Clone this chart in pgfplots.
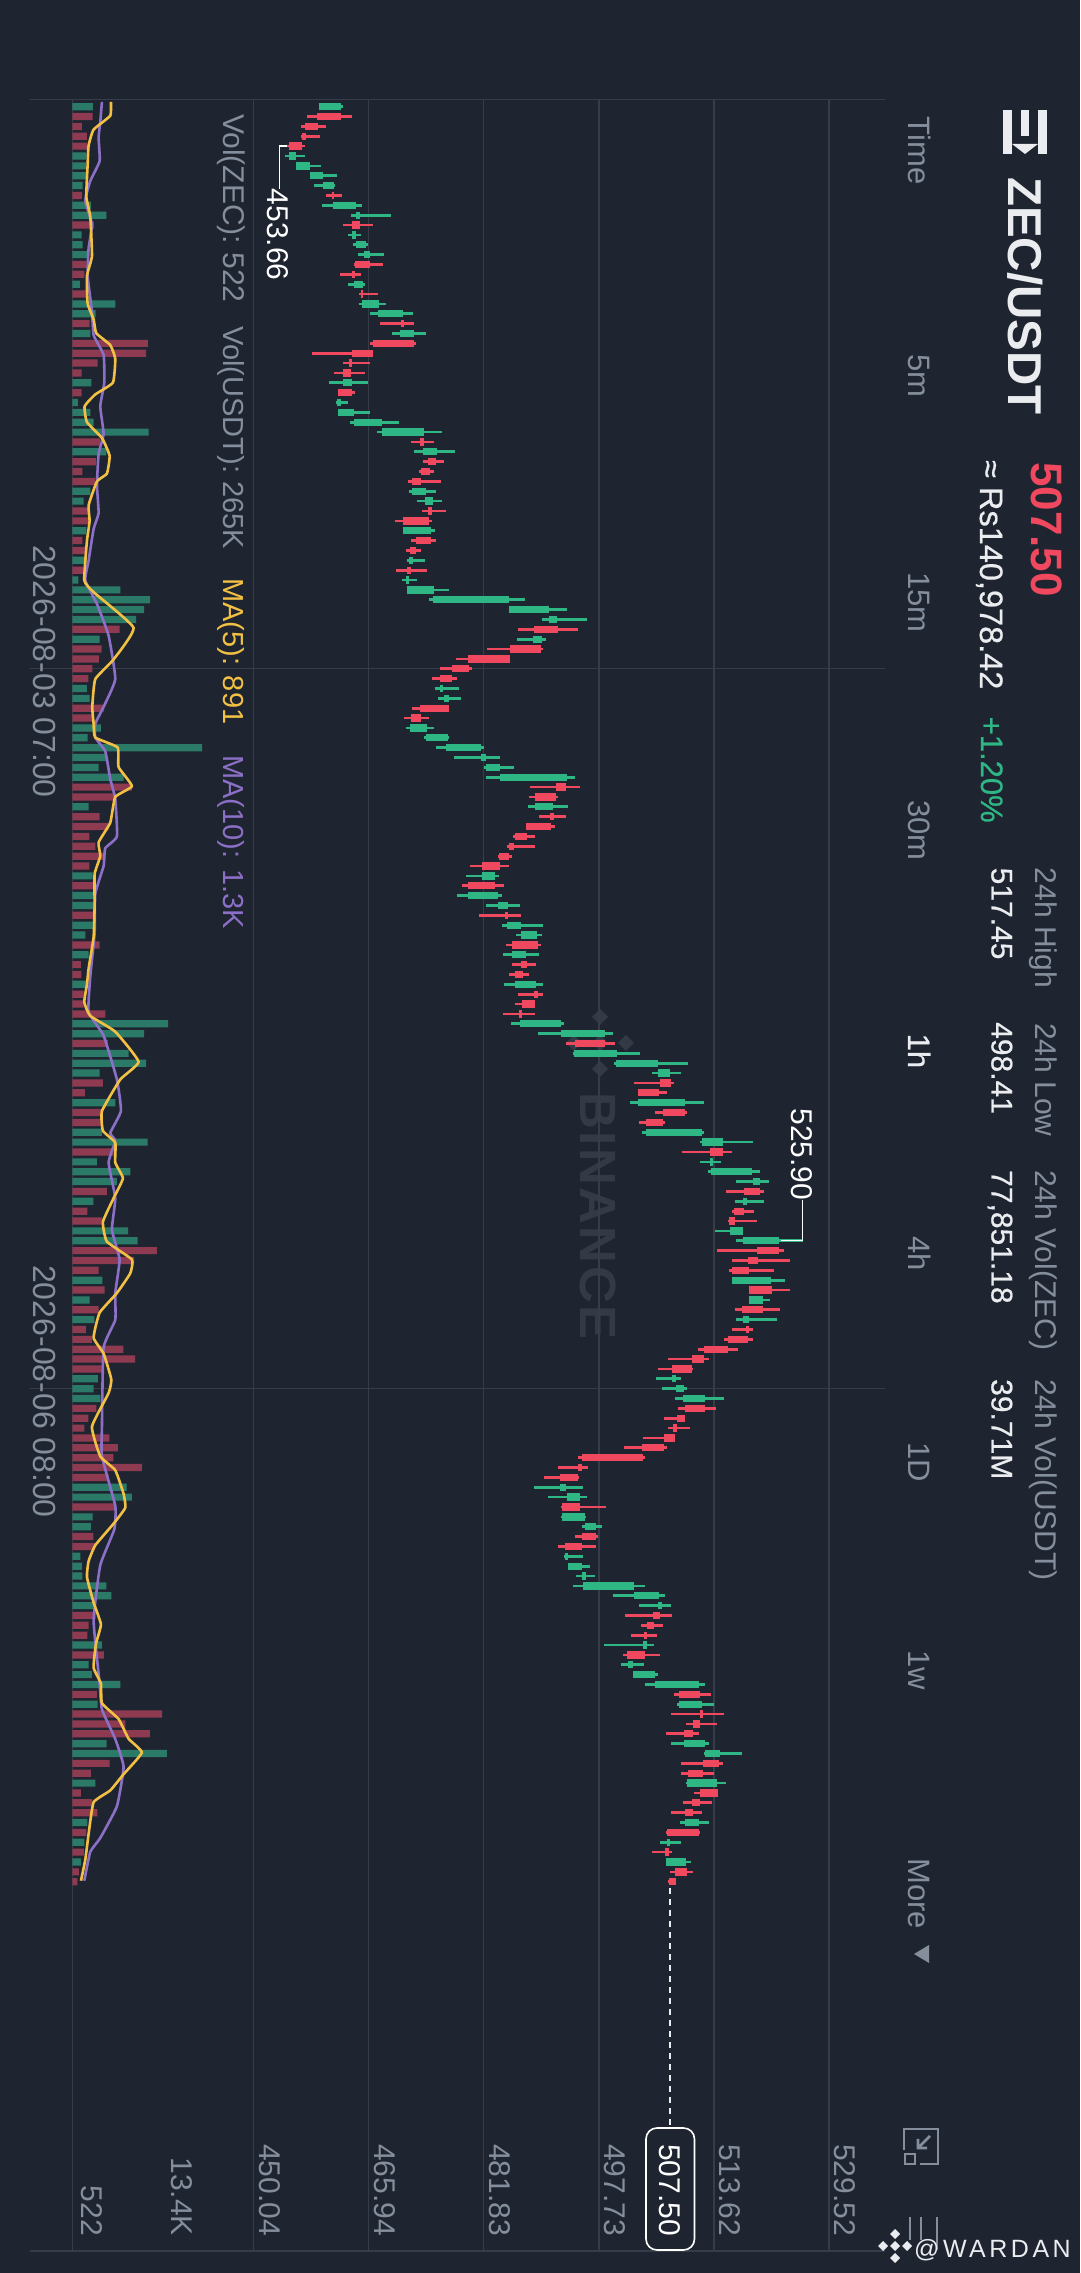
\documentclass[border=0pt]{standalone}
\usepackage{pgfplots}
\pgfplotsset{compat=1.18}
\usepackage{pgfplotstable}
\usepackage{fontspec}
\setmainfont{Liberation Sans}
\newfontfamily\wmfont[LetterSpace=14]{Liberation Sans}
\newfontfamily\binfont[LetterSpace=5]{Liberation Sans Bold}
\newfontfamily\medfont[FakeBold=0.6]{Liberation Sans}
\definecolor{bgc}{HTML}{1F2530}
\definecolor{gridc}{HTML}{363C48}
\definecolor{cg}{HTML}{2EB684}
\definecolor{cr}{HTML}{F0485F}
\definecolor{vg}{HTML}{2B7A68}
\definecolor{vr}{HTML}{8E3A50}
\definecolor{greyt}{HTML}{848E9C}
\definecolor{whitet}{HTML}{EAECEF}
\definecolor{ma5}{HTML}{F2C144}
\definecolor{ma10}{HTML}{8C6FC6}
\definecolor{wmc}{HTML}{343A45}
\pgfplotstableread{
t wl bl bh wh v
-1 454.60 459.10 459.10 459.10 0
0 459.02 459.02 462.15 462.43 2133
5 454.37 454.97 455.89 457.09 1445
6 455.85 455.85 457.82 459.30 1410
7 457.78 457.78 459.57 461.55 1445
8 458.42 459.57 461.19 461.28 1066
10 459.48 461.00 464.22 465.05 1926
11 463.49 464.13 464.73 468.97 3509
13 463.12 463.63 464.22 464.92 963
14 463.81 464.13 465.51 465.84 1066
15 464.50 465.33 466.07 468.05 1514
18 463.12 463.90 465.19 465.38 791
20 464.55 465.01 467.36 468.37 4438
21 466.16 467.26 470.67 472.05 2408
23 469.15 470.26 472.14 473.80 1858
28 460.40 462.34 463.63 465.88 1961
30 461.46 461.60 462.06 463.03 585
31 461.74 461.74 463.90 466.11 1858
32 463.36 463.91 467.78 470.08 2202
33 467.13 467.78 473.58 476.06 7878
35 472.20 473.39 475.37 477.81 3509
39 471.55 471.92 473.81 475.19 1858
40 472.66 473.72 474.78 476.02 1170
43 470.72 470.72 474.55 475.14 1445
46 471.23 471.55 472.06 473.76 1445
48 470.54 471.14 471.55 472.57 619
49 471.18 471.18 474.91 477.08 4954
50 474.32 474.87 485.36 487.48 8050
51 485.36 485.36 490.89 493.28 7430
52 489.88 490.84 491.99 496.09 6605
54 486.38 488.68 489.88 490.38 2821
59 475.05 475.79 476.25 478.37 1514
60 475.47 476.34 476.99 478.69 1789
63 471.05 471.64 473.99 475.01 2958
64 473.58 473.85 476.85 477.08 1582
65 475.28 476.66 481.45 481.91 13400
66 477.77 481.50 482.14 484.08 3578
67 481.91 482.14 484.08 485.96 2718
68 482.14 484.08 493.28 494.39 5298
71 487.99 488.86 491.44 493.42 1686
78 479.43 481.54 483.43 483.98 2098
80 478.14 479.70 483.80 484.35 2374
81 482.19 483.75 485.18 486.84 2305
83 484.40 485.09 486.93 490.06 2305
84 486.29 486.98 489.23 489.88 1342
86 484.49 485.73 487.71 489.42 1686
89 484.63 486.10 489.09 489.97 1445
93 485.64 486.84 492.55 492.92 9907
94 489.28 492.50 498.62 499.73 7430
96 494.20 494.34 500.28 503.46 5814
97 499.87 500.10 505.94 510.04 7637
98 505.07 505.85 507.60 509.12 2821
101 502.08 503.09 509.58 512.30 4438
104 503.64 504.29 512.02 512.21 3062
105 511.65 512.02 514.92 519.07 7774
107 511.65 513.08 513.54 514.55 2546
108 512.85 513.17 518.93 519.99 5986
109 516.63 518.97 519.99 521.28 4610
111 516.53 517.69 518.15 520.49 2167
114 513.77 515.84 517.64 517.64 5779
115 516.67 517.59 522.61 525.90 6742
119 516.12 516.12 521.51 523.44 3096
121 518.47 518.51 520.45 521.37 1789
123 516.63 517.59 518.47 522.34 2270
129 505.62 507.78 508.34 509.12 2649
130 506.49 508.38 509.49 509.85 2202
131 508.24 509.39 512.34 514.96 2890
140 488.72 492.36 493.19 495.54 5607
141 490.70 493.28 495.08 496.04 6158
143 492.45 492.59 495.86 496.00 2098
144 495.40 495.86 497.29 498.16 1926
147 492.91 493.00 493.46 495.49 826
148 493.46 493.46 495.40 496.46 998
149 494.62 495.40 495.90 497.15 1032
150 494.20 495.54 502.53 504.05 3509
151 499.73 502.63 505.99 506.86 4025
152 503.27 505.85 506.40 507.64 2133
156 498.44 503.87 504.33 505.34 3062
158 500.74 501.80 502.49 503.92 1686
159 502.49 502.49 505.53 505.94 2030
160 504.15 505.48 511.56 512.34 4954
162 508.57 508.80 512.02 513.58 2614
166 507.69 509.49 512.39 512.89 3543
167 512.20 512.34 514.46 517.50 9770
170 509.76 509.95 514.09 515.24 2374
174 508.98 509.62 511.60 512.98 1548
176 506.13 507.14 507.55 509.12 1238
178 506.95 507.00 509.76 510.50 894
}\greentab
\pgfplotstableread{
t wl bl bh wh v
1 457.46 458.84 462.11 463.58 2098
2 456.63 457.18 458.98 460.08 998
3 456.58 456.77 457.23 459.16 1514
4 453.66 454.97 456.72 457.18 1514
9 460.03 460.82 461.14 462.24 998
12 462.38 463.58 464.78 466.53 2236
16 463.90 463.99 466.07 467.91 1479
17 462.01 463.67 464.04 464.87 1238
19 464.64 464.82 465.15 467.17 1445
22 467.49 470.35 470.76 472.24 1789
24 466.11 466.53 472.24 472.42 7809
25 458.10 463.67 466.53 466.57 7637
26 462.43 463.17 463.58 466.07 2614
27 461.19 462.34 463.44 465.47 963
29 461.65 461.65 463.67 463.99 963
34 471.78 473.07 473.58 474.91 2890
36 473.44 474.08 475.28 476.34 2442
37 472.89 473.12 474.41 475.01 1032
38 471.37 471.92 473.21 475.93 2374
41 473.30 474.18 474.64 476.66 1686
42 469.53 470.68 474.22 474.68 1789
44 471.74 472.43 474.50 475.24 1032
45 471.14 471.69 472.43 473.16 1445
47 469.76 471.23 471.78 473.99 1170
53 486.52 488.73 492.04 494.85 4885
55 482.28 485.50 489.78 490.01 3027
56 478.04 479.66 485.46 485.46 2752
57 475.83 477.40 479.75 480.16 2064
58 474.73 475.83 477.40 478.14 1651
61 471.97 472.98 477.03 477.03 3234
62 470.82 471.74 473.12 474.22 2030
69 488.22 491.81 493.24 495.08 6158
70 488.08 488.86 491.76 492.04 4438
72 489.51 491.03 491.49 493.24 2821
73 487.71 487.71 491.07 491.67 3750
74 485.92 486.10 487.80 488.86 1754
75 485.09 485.27 486.01 488.96 2374
76 483.75 483.94 485.32 485.69 3406
77 479.98 481.64 484.03 485.32 1754
79 478.83 479.66 483.43 484.58 2374
82 481.22 484.77 485.23 487.02 2374
85 484.90 485.78 489.37 489.78 2821
87 485.78 487.02 487.80 488.98 894
88 485.36 486.10 487.21 488.03 929
90 486.52 488.77 489.28 489.97 1170
91 486.10 487.11 488.86 488.86 1170
92 484.49 486.65 487.16 488.86 3406
95 493.24 494.39 498.62 499.91 3681
99 502.58 506.13 507.74 508.06 3165
100 503.09 503.09 506.04 507.19 1307
102 505.48 506.64 509.63 509.90 3062
103 503.23 504.24 506.64 506.82 2958
106 509.17 513.03 514.92 516.07 4266
110 515.34 517.73 520.03 520.54 3578
112 516.07 516.44 517.82 519.11 1548
113 515.61 515.75 516.49 519.53 3062
116 514.05 519.62 522.61 523.30 8738
117 516.12 518.38 519.67 524.18 6398
118 515.66 516.12 518.51 521.87 2718
120 518.51 518.51 521.64 524.09 3337
122 516.49 517.55 520.36 522.70 2718
124 516.12 518.05 518.47 519.07 1410
125 515.06 515.52 518.37 519.02 2030
126 511.37 512.25 515.61 516.99 5263
127 507.28 510.59 512.25 512.89 6502
128 505.85 507.87 510.64 510.78 3062
132 508.66 509.62 512.39 513.91 2477
133 506.77 508.47 509.67 509.67 1651
134 507.28 508.01 508.57 510.31 1238
135 503.78 506.72 508.24 508.24 3818
136 501.20 503.73 506.77 507.18 4713
137 494.89 495.35 503.78 504.10 4231
138 492.08 494.80 495.44 496.18 7190
139 490.10 492.36 494.85 494.98 3750
142 492.45 492.59 495.12 498.71 4438
145 494.43 495.40 497.38 497.65 2167
146 492.08 493.05 495.44 497.38 2339
153 501.38 505.20 506.22 507.87 2408
154 503.55 504.42 505.30 506.54 1686
155 502.17 503.92 504.42 505.76 1548
157 501.11 501.66 504.15 506.22 3268
161 508.15 508.80 511.70 513.17 2546
163 507.74 511.65 512.11 515.06 9288
164 509.76 510.68 511.70 514.00 5470
165 507.05 509.53 510.78 511.56 8015
168 509.12 512.07 514.37 514.87 3853
169 509.07 510.04 512.11 513.63 1926
171 510.91 511.65 514.14 514.14 894
172 509.39 510.64 511.70 513.31 2064
173 507.74 509.62 510.68 512.02 2580
175 507.05 507.18 511.56 511.70 1445
177 505.11 506.86 507.37 507.87 1204
179 507.60 508.20 509.95 510.78 688
180 507.28 507.41 508.34 508.34 522
}\redtab
\pgfplotstableread{
t v
-0.49 3990
0.91 3922
2.32 2202
3.92 1686
5.92 1582
9.13 1445
11.14 1858
15.15 2030
17.15 1514
19.96 1582
21.56 2202
22.97 2477
24.17 3922
25.57 4438
27.98 4197
29.18 2374
30.38 1273
31.99 1514
33.59 3062
35.39 3853
37.2 3578
38 2546
40.41 1686
42.01 1789
44.02 1514
48.03 1238
49.23 2202
52.84 6330
56.05 4266
58.05 2374
60.86 2064
62.56 2202
63.97 2374
64.97 4678
66.97 4782
68.9 6158
70.0 4438
72.6 3922
74.6 2718
76.0 2890
77.8 2305
81.0 2305
84.2 2202
87.4 1686
89.0 1514
90.8 1238
92.2 1858
93.8 4438
96.85 6846
98.65 4954
101.85 3062
103.85 3165
105.05 4438
107.07 4438
108.67 5229
110.68 4266
113.09 3165
115.09 3578
116.9 6158
118.3 5986
120.3 4610
122.3 2821
124.84 2202
126.44 3234
129.05 4025
130.45 3750
133.85 2030
136.86 2890
138.27 4438
140.67 5298
142.08 5470
143.69 4266
145.88 2374
147.49 1686
149.1 1514
151.7 2202
153.9 2958
155.9 2442
158.3 2202
159.9 2958
161.9 3062
163.5 4782
165.5 5814
166.9 7190
169.1 5298
170.74 3922
171.94 2202
175.15 1686
177.76 1342
179.9 894
}\mafive
\pgfplotstableread{
t v
-0.49 3062
1.52 2890
3.12 2718
5.52 2821
7.53 1858
9.53 1342
11.94 2030
14.35 1686
17.15 1582
20.76 2030
23.17 2202
25.17 3234
27.98 3302
30.38 2890
33.19 3234
35.2 2718
38.4 2546
41.21 2718
42.81 2202
46.02 1686
48.03 1342
50.43 2546
53.64 3750
58.05 4438
60.86 3234
62.56 2374
63.97 2374
65.37 3406
68.18 3922
70.18 4438
74.0 4610
75.2 3406
77.0 3234
79.8 2374
83.8 2305
88.2 1858
91.8 1686
94.2 3234
98.65 4610
101.85 5022
104.06 3922
104.86 4438
107.07 3750
110.68 4438
113.89 4094
116.9 4885
120.3 4438
123.03 4438
125.84 3234
133.85 3062
136.86 3062
141.88 4438
144.28 4334
147.89 2890
153.5 2202
159.9 2821
162.53 3062
165.53 4438
168.34 5298
172.35 4610
175.56 2890
176.97 1858
179.9 1238
}\maten
\newcommand\rt[5]{\node[rotate=-90,anchor=base west,inner sep=0pt,text=#4,font=\fontsize{#3}{#3}\selectfont] at (#1,#2) {#5};}
\newcommand\dia[3]{\fill (#1-#3,#2)--(#1,#2-#3)--(#1+#3,#2)--(#1,#2+#3)--cycle;}
\begin{document}
\begin{tikzpicture}[x=1pt,y=1pt]
\useasboundingbox (0,0) rectangle (1080,2273);
\fill[bgc] (0,0) rectangle (1080,2273);
\begin{scope}[shift={(0pt,2273pt)},x=1pt,y=-1pt]
\begin{scope}[fill=wmc]
\dia{600}{1017}{8}\dia{600}{1069}{8}\dia{600}{1043}{8}\dia{574}{1043}{8}\dia{626}{1043}{8}
\end{scope}
\node[rotate=-90,anchor=base west,inner sep=0pt,text=wmc,font=\binfont\fontsize{51}{51}\selectfont] at (580,1092) {BINANCE};
\end{scope}
\begin{axis}[name=price,anchor=south west,at={(30pt,22pt)},scale only axis,width=855pt,height=2151.7pt,
 xmin=419.16,xmax=537.25,ymin=-0.75,ymax=217.45,y dir=reverse,
 axis line style={draw=none},major tick length=0pt,
 xtick={450.04,465.94,481.83,497.73,513.62,529.52},
 xticklabels={450.04,465.94,481.83,497.73,513.62,529.52},
 ytick={-0.75,57,130,217.45},yticklabels={},
 xticklabel pos=lower,
 xticklabel style={rotate=-90,anchor=base east,inner sep=0pt,text=greyt,font=\fontsize{30}{30}\selectfont,xshift=-15pt,yshift=5.5pt},
 grid=major,grid style={gridc,line width=1.3pt}]
\addplot[forget plot,draw=none,no markers,error bars/.cd,x dir=plus,x explicit,error mark=none,error bar style={draw=cg,line width=2.7pt}] table[x=wl,y=t,x error plus expr=\thisrow{wh}-\thisrow{wl}]{\greentab};
\addplot[forget plot,draw=none,no markers,error bars/.cd,x dir=plus,x explicit,error mark=none,error bar style={draw=cr,line width=2.7pt}] table[x=wl,y=t,x error plus expr=\thisrow{wh}-\thisrow{wl}]{\redtab};
\addplot[forget plot,draw=none,no markers,error bars/.cd,x dir=plus,x explicit,error mark=none,error bar style={draw=cg,line width=7.3pt}] table[x=bl,y=t,x error plus expr=\thisrow{bh}-\thisrow{bl}]{\greentab};
\addplot[forget plot,draw=none,no markers,error bars/.cd,x dir=plus,x explicit,error mark=none,error bar style={draw=cr,line width=7.3pt}] table[x=bl,y=t,x error plus expr=\thisrow{bh}-\thisrow{bl}]{\redtab};
\addplot[forget plot,whitet,line width=2pt,dash pattern=on 6pt off 5pt] coordinates {(507.50,180.6)(507.50,205)};
\draw[white,line width=1.3pt] (axis cs:454.6,4)--(axis cs:453.66,4)--(axis cs:453.66,8.3);
\draw[white,line width=1.3pt] (axis cs:522.9,115)--(axis cs:525.90,115)--(axis cs:525.90,110.9);
\node[rotate=-90,anchor=base east,inner sep=0pt,text=white,font=\fontsize{30}{30}\selectfont] at (axis cs:525.90,110.9) [yshift=-11pt] {525.90};
\node[rotate=-90,anchor=base west,inner sep=0pt,text=white,font=\fontsize{30}{30}\selectfont] at (axis cs:453.66,8.3) [yshift=-12pt] {453.66};
\end{axis}
\begin{axis}[anchor=south west,at={(72.3pt,22pt)},scale only axis,width=181.3pt,height=2151.7pt,
 xmin=0,xmax=18728,ymin=-0.75,ymax=217.45,y dir=reverse,scaled x ticks=false,
 axis line style={draw=none},major tick length=0pt,
 xtick={0},xticklabels={},ytick=\empty,grid=major,grid style={gridc,line width=1.3pt},clip=true]
\addplot[forget plot,xbar,bar width=7.2pt,fill=vg,draw=none] table[x=v,y=t]{\greentab};
\addplot[forget plot,xbar,bar width=7.2pt,fill=vr,draw=none] table[x=v,y=t]{\redtab};
\addplot[forget plot,ma10,line width=2.6pt,line join=round,smooth,tension=0.25] table[x=v,y=t]{\maten};
\addplot[forget plot,ma5,line width=2.6pt,line join=round,smooth,tension=0.25] table[x=v,y=t]{\mafive};
\end{axis}
\begin{scope}[shift={(0pt,2273pt)},x=1pt,y=-1pt]
% logo
\fill[whitet] (1003,110) rectangle (1012,154);
\fill[whitet] (1038,110) rectangle (1047,154);
\fill[whitet] (1021,110) rectangle (1029,136);
\fill[whitet] (1012,144)--(1038,144)--(1025,154)--cycle;
\rt{1008}{177}{47.5}{whitet}{\bfseries ZEC/USDT}
\rt{1031}{462}{44}{cr}{\bfseries 507.50}
\rt{980}{460}{32.5}{whitet}{\medfont ≈ Rs140,978.42}
\rt{981}{716.5}{31}{cg}{\medfont +1.20\%}
\rt{1035}{867.5}{30}{greyt}{24h High}
\rt{991.5}{867.5}{30}{whitet}{\medfont 517.45}
\rt{1035}{1023}{30}{greyt}{24h Low}
\rt{991.5}{1022}{30}{whitet}{\medfont 498.41}
\rt{1035}{1170}{30}{greyt}{24h Vol(ZEC)}
\rt{991.5}{1170}{30}{whitet}{\medfont 77,851.18}
\rt{1035}{1379}{30}{greyt}{24h Vol(USDT)}
\rt{991.5}{1379}{30}{whitet}{\medfont 39.71M}
\rt{908}{116.5}{31}{greyt}{Time}
\rt{908}{354}{31}{greyt}{5m}
\rt{908}{572}{31}{greyt}{15m}
\rt{908}{800}{31}{greyt}{30m}
\rt{908}{1033.5}{31}{whitet}{\medfont 1h}
\rt{908}{1236}{31}{greyt}{4h}
\rt{908}{1442.5}{31}{greyt}{1D}
\rt{908}{1650}{31}{greyt}{1w}
\rt{908}{1858}{31}{greyt}{More}
\fill[greyt] (914,1954)--(929,1945)--(929,1963)--cycle;
\draw[greyt,line width=2.8pt] (904,2150)--(904,2129)--(938,2129)--(938,2164)--(920,2164);
\draw[greyt,line width=2.8pt] (905,2154) rectangle (915,2164);
\draw[greyt,line width=2.8pt] (930,2136)--(918,2148) (918,2139)--(918,2148)--(927,2148);
\draw[greyt,line width=2.5pt] (910,2217)--(910,2240) (921,2217)--(921,2240) (937,2217)--(937,2250);
% labels
\rt{223.5}{114}{30}{greyt}{Vol(ZEC): 522}
\rt{223.5}{326.5}{29}{greyt}{Vol(USDT): 265K}
\rt{223.5}{578}{29}{ma5}{MA(5): 891}
\rt{223.5}{755}{29}{ma10}{MA(10): 1.3K}
\node[rotate=-90,anchor=base east,inner sep=0pt,text=greyt,font=\fontsize{30}{30}\selectfont] at (171,2236) {13.4K};
\node[rotate=-90,anchor=base east,inner sep=0pt,text=greyt,font=\fontsize{30}{30}\selectfont] at (81,2236) {522};
\rt{33}{545}{32}{greyt}{2026-08-03 07:00}
\rt{33}{1265}{32}{greyt}{2026-08-06 08:00}
\draw[white,line width=1.6pt,fill=bgc,rounded corners=11pt] (646,2128) rectangle (694.5,2250);
\node[rotate=-90,anchor=base east,inner sep=0pt,text=white,font=\fontsize{30}{30}\selectfont] at (659,2236) {507.50};
% bottom watermark
\node[anchor=base west,inner sep=0pt,text=whitet,font=\wmfont\fontsize{25}{25}\selectfont] at (914,2257) {@WARDAN};
\begin{scope}[fill=whitet]
\dia{895}{2234}{5}\dia{895}{2258}{5}\dia{895}{2246}{5}\dia{883}{2246}{5}\dia{907}{2246}{5}
\end{scope}
\end{scope}
\end{tikzpicture}
\end{document}
